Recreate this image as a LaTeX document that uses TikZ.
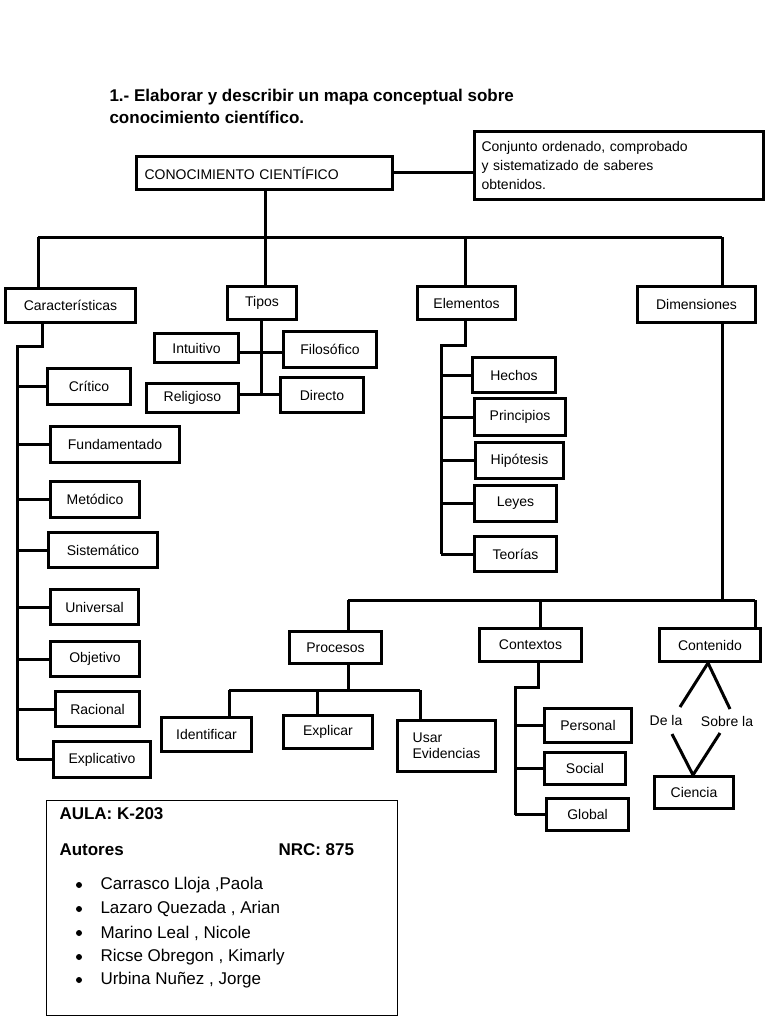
\documentclass[tikz,border=0pt]{standalone}
\usepackage{fontspec}
\setmainfont{Liberation Sans}
\begin{document}
\begin{tikzpicture}[x=1pt,y=-1pt,
  box/.style={draw,line width=3pt,inner sep=2pt,font=\fontsize{14}{16}\selectfont,align=left},
  ln/.style={line width=3pt},
  lbl/.style={font=\fontsize{14}{16}\selectfont}]
\useasboundingbox (0,0) rectangle (768,1024);
\newcommand\bx[6]{\node[box,anchor=north west,minimum width={(#4-#3)*1pt},minimum height={(#6-#5)*1pt}] (#1) at (#3,#5) {#2};}
\node[anchor=north west,align=left,font=\bfseries\fontsize{17}{22}\selectfont] (title) at (106,86) {1.- Elaborar y describir un mapa conceptual sobre\\conocimiento científico.};
\node[box,anchor=north west,minimum width=256pt,minimum height=33pt,text width=240pt] (cc) at (135,155) {CONOCIMIENTO CIENTÍFICO};
\node[box,anchor=north west,minimum width=289pt,minimum height=68pt,text width=275pt,font=\fontsize{14}{19}\selectfont] (def) at (473,130) {Conjunto ordenado, comprobado\\y sistematizado de saberes\\obtenidos.};
\bx{car}{Características}{4}{134}{287}{321}
\bx{tip}{Tipos}{226}{295}{285}{318}
\bx{ele}{Elementos}{416}{514}{285}{318}
\bx{dim}{Dimensiones}{636}{754}{285}{321}
\bx{int}{Intuitivo}{153}{237}{332}{361}
\bx{fil}{Filosófico}{282}{375}{330}{366}
\bx{rel}{Religioso}{145}{237}{382}{411}
\bx{dir}{Directo}{279}{362}{376}{411}
\bx{c1}{Crítico}{46}{129}{367}{403}
\bx{c2}{Fundamentado}{49}{178}{425}{461}
\bx{c3}{Metódico}{49}{138}{480}{516}
\bx{c4}{Sistemático}{47}{156}{531}{566}
\bx{c5}{Universal}{49}{137}{588}{623}
\bx{c6}{Objetivo}{49}{138}{640}{675}
\bx{c7}{Racional}{54}{138}{690}{725}
\bx{c8}{Explicativo}{52}{149}{740}{776}
\bx{e1}{Hechos}{471}{554}{356}{391}
\bx{e2}{Principios}{473}{564}{397}{434}
\bx{e3}{Hipótesis}{474}{562}{441}{477}
\bx{e4}{Leyes}{473}{555}{484}{520}
\bx{e5}{Teorías}{473}{555}{535}{570}
\bx{pro}{Procesos}{288}{380}{630}{662}
\bx{ctx}{Contextos}{478}{580}{627}{660}
\bx{con}{Contenido}{658}{759}{627}{660}
\bx{p1}{Identificar}{160}{250}{716}{750}
\bx{p2}{Explicar}{282}{371}{714}{747}
\bx{p3}{Usar\\Evidencias}{396}{494}{719}{770}
\bx{x1}{Personal}{543}{630}{707}{741}
\bx{x2}{Social}{543}{624}{751}{783}
\bx{x3}{Global}{545}{627}{797}{829}
\bx{cie}{Ciencia}{653}{732}{775}{807}
% main tree
\draw[ln] (cc.east) -- (def.west |- cc.east);
\draw[ln] (265,0 |- cc.south) -- (265,237);
\draw[ln] (38,237) -- (722,237);
\draw[ln] (38,237) -- (38,0 |- car.north);
\draw[ln] (265,237) -- (265,0 |- tip.north);
\draw[ln] (465,237) -- (465,0 |- ele.north);
\draw[ln] (722,237) -- (722,0 |- dim.north);
% caracteristicas
\draw[ln] (42,0 |- car.south) -- (42,346) -- (17,346) -- (17,0 |- c8.west);
\foreach \n in {c1,c2,c3,c4,c5,c6,c7,c8} \draw[ln] (17,0 |- \n.west) -- (\n.west);
% tipos
\draw[ln] (261,0 |- tip.south) -- (261,394);
\draw[ln] (int.east |- 0,352) -- (fil.west |- 0,352);
\draw[ln] (rel.east |- 0,394) -- (dir.west |- 0,394);
% elementos
\draw[ln] (465,0 |- ele.south) -- (465,345) -- (441,345) -- (441,0 |- e5.west);
\foreach \n in {e1,e2,e3,e4,e5} \draw[ln] (441,0 |- \n.west) -- (\n.west);
% dimensiones
\draw[ln] (722,0 |- dim.south) -- (722,600);
\draw[ln] (348,600) -- (755,600);
\draw[ln] (348,600) -- (348,0 |- pro.north);
\draw[ln] (540,600) -- (540,0 |- ctx.north);
\draw[ln] (755,600) -- (755,0 |- con.north);
% procesos
\draw[ln] (348,0 |- pro.south) -- (348,690);
\draw[ln] (229,690) -- (420,690);
\draw[ln] (229,690) -- (229,0 |- p1.north);
\draw[ln] (317,690) -- (317,0 |- p2.north);
\draw[ln] (420,690) -- (420,0 |- p3.north);
% contextos
\draw[ln] (538,0 |- ctx.south) -- (538,687) -- (515,687) -- (515,0 |- x3.west);
\foreach \n in {x1,x2,x3} \draw[ln] (515,0 |- \n.west) -- (\n.west);
% contenido
\node[lbl] (dela) at (666,720) {De la};
\node[lbl] (sobre) at (727,721) {Sobre la};
\draw[ln] (708,0 |- con.south) -- (680,707);
\draw[ln] (708,0 |- con.south) -- (730,709);
\draw[ln] (672,734) -- (693,0 |- cie.north);
\draw[ln] (720,733) -- (693,0 |- cie.north);
% authors
\draw[line width=1pt] (46,800) rectangle (397,1015);
\node[anchor=west,font=\bfseries\fontsize{17}{20}\selectfont] (aula) at (56,814) {AULA: K-203};
\node[anchor=west,font=\bfseries\fontsize{17}{20}\selectfont] (aut) at (56,850) {Autores};
\node[anchor=west,font=\bfseries\fontsize{17}{20}\selectfont] (nrc) at (275,850) {NRC: 875};
\foreach \y/\t in {885/{Carrasco Lloja ,Paola},909/{Lazaro Quezada , Arian},933/{Marino Leal , Nicole},957/{Ricse Obregon , Kimarly},980/{Urbina Nuñez , Jorge}}{
  \fill (79,\y) circle (3pt);
  \node[anchor=west,font=\fontsize{17}{20}\selectfont] at (97,\y) {\t};
}
\end{tikzpicture}
\end{document}
